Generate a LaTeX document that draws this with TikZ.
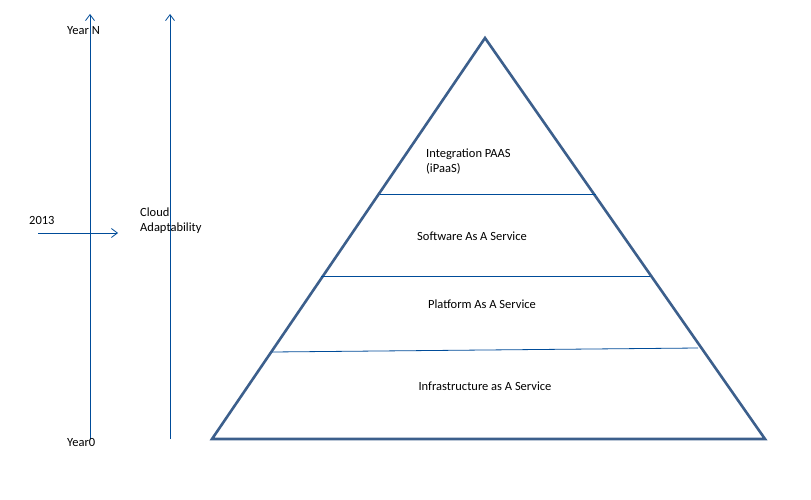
\documentclass[tikz,border=0pt]{standalone}
\usepackage{fontspec}
\setmainfont{Carlito}
\usetikzlibrary{arrows.meta}
\begin{document}
\begin{tikzpicture}[x=1pt,y=-1pt,
  ax/.style={draw=blue!50!cyan!60!black, line width=0.8pt, -{Straight Barb[length=6pt,width=9pt]}},
  lvl/.style={draw=blue!50!cyan!60!black, line width=0.8pt},
  lbl/.style={font=\fontsize{12.5}{15}\selectfont, text=black, inner sep=0pt}]
\useasboundingbox (0,0) rectangle (811,500);
\fill[white] (0,0) rectangle (811,500);
\coordinate (apex) at (485,38);
\coordinate (bl) at (212,439);
\coordinate (br) at (765,439);
\draw[draw={rgb,255:red,60;green,95;blue,140}, line width=2.6pt, line join=miter] (apex) -- (br) -- (bl) -- cycle;
\coordinate (l1a) at (380,194); \coordinate (l1b) at (596,194);
\coordinate (l2a) at (321,276); \coordinate (l2b) at (650,276);
\coordinate (l3a) at (272,352); \coordinate (l3b) at (698,348);
\draw[lvl] (l1a) -- (l1b);
\draw[lvl] (l2a) -- (l2b);
\draw[lvl] (l3a) -- (l3b);
\coordinate (y0) at (90,439); \coordinate (yn) at (90,14);
\coordinate (c0) at (170,439); \coordinate (cn) at (170,14);
\coordinate (h0) at (38,233); \coordinate (h1) at (118,233);
\draw[ax] (y0) -- (yn);
\draw[ax] (c0) -- (cn);
\draw[ax] (h0) -- (h1);
\node[lbl, anchor=west] (yN) at (67,31) {Year N};
\node[lbl, anchor=west] (yZ) at (67,442) {Year0};
\node[lbl, anchor=west] (yr) at (29,220) {2013};
\node[lbl, anchor=west, align=left] (ca) at (140,221) {Cloud\\Adaptability};
\node[lbl, anchor=west, align=left] (ip) at (426,162) {Integration PAAS\\(iPaaS)};
\node[lbl] (saas) at (472,236) {Software As A Service};
\node[lbl] (paas) at (482,304) {Platform As A Service};
\node[lbl] (iaas) at (485,386) {Infrastructure as A Service};
\end{tikzpicture}
\end{document}
